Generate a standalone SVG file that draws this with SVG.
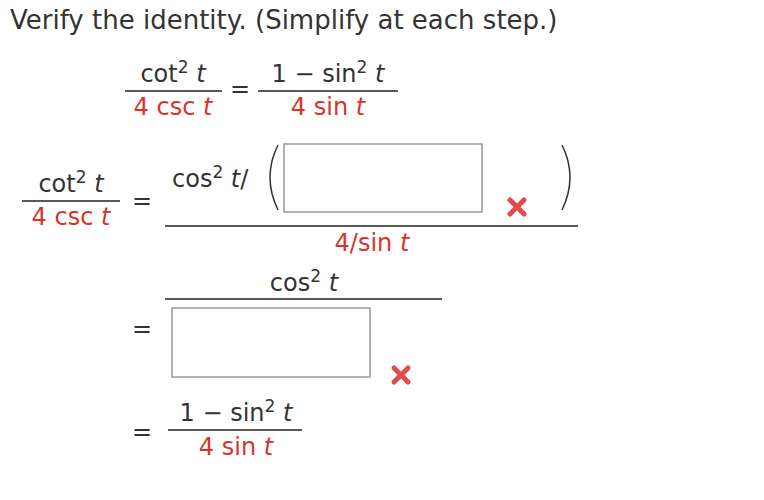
<svg xmlns="http://www.w3.org/2000/svg" width="764" height="500" viewBox="0 0 764 500">
<style>
text{font-family:"DejaVu Sans",Verdana,sans-serif;font-size:24px;fill:#333}
.t{font-size:26px}
.r{fill:#d9342b}
.i{font-style:italic}
.s{font-size:17px}
.ln{stroke:#222;stroke-width:1.3}
.box{fill:#fff;stroke:#999;stroke-width:1.5}
.x{stroke:#e04c4c;stroke-width:5;stroke-linecap:round}
</style>
<rect width="764" height="500" fill="#fff"/>
<text class="t" x="10" y="29">Verify the identity. (Simplify at each step.)</text>
<g id="top">
<text x="173" y="82" text-anchor="middle">cot<tspan class="s" dy="-9">2</tspan><tspan dy="9" class="i"> t</tspan></text>
<line class="ln" x1="125" y1="91" x2="222" y2="91"/>
<text class="r" x="173" y="115" text-anchor="middle">4 csc <tspan class="i">t</tspan></text>
<text x="240" y="97" text-anchor="middle">=</text>
<text x="328" y="82" text-anchor="middle">1 − sin<tspan class="s" dy="-9">2</tspan><tspan dy="9" class="i"> t</tspan></text>
<line class="ln" x1="258" y1="91" x2="398" y2="91"/>
<text class="r" x="328" y="115" text-anchor="middle">4 sin <tspan class="i">t</tspan></text>
</g>
<g id="lhs">
<text x="71" y="192" text-anchor="middle">cot<tspan class="s" dy="-9">2</tspan><tspan dy="9" class="i"> t</tspan></text>
<line class="ln" x1="22" y1="201" x2="120" y2="201"/>
<text class="r" x="71" y="225" text-anchor="middle">4 csc <tspan class="i">t</tspan></text>
<text x="142" y="209" text-anchor="middle">=</text>
</g>
<g id="step1">
<text x="172" y="187">cos<tspan class="s" dy="-9">2</tspan><tspan dy="9" class="i"> t</tspan>/</text>
<path d="M278 145 Q262 177 278 210" fill="none" stroke="#333" stroke-width="1.5"/>
<rect class="box" x="284" y="144" width="198" height="68"/>
<path d="M510 200 L524 214 M524 200 L510 214" class="x"/>
<path d="M562 145 Q578 177 562 210" fill="none" stroke="#333" stroke-width="1.5"/>
<line class="ln" x1="165" y1="226" x2="578" y2="226"/>
<text class="r" x="372" y="251" text-anchor="middle">4/sin <tspan class="i">t</tspan></text>
<text x="304" y="291" text-anchor="middle">cos<tspan class="s" dy="-9">2</tspan><tspan dy="9" class="i"> t</tspan></text>
<line class="ln" x1="165" y1="299" x2="442" y2="299"/>
</g>
<g id="step2">
<text x="142" y="337" text-anchor="middle">=</text>
<rect class="box" x="172" y="308" width="198" height="69"/>
<path d="M394 368 L408 382 M408 368 L394 382" class="x"/>
</g>
<g id="step3">
<text x="142" y="440" text-anchor="middle">=</text>
<text x="236" y="421" text-anchor="middle">1 − sin<tspan class="s" dy="-9">2</tspan><tspan dy="9" class="i"> t</tspan></text>
<line class="ln" x1="168" y1="430" x2="302" y2="430"/>
<text class="r" x="236" y="455" text-anchor="middle">4 sin <tspan class="i">t</tspan></text>
</g>
</svg>
